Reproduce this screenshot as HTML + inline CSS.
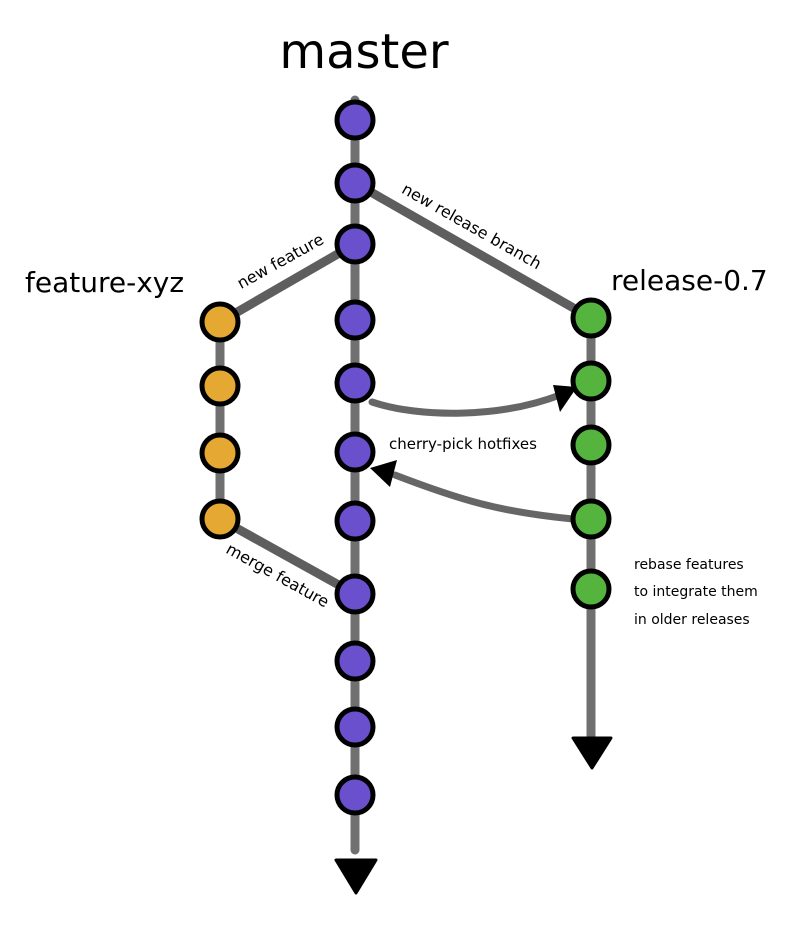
<!DOCTYPE html>
<html><head><style>body{margin:0;background:#fff}svg{display:block}</style></head>
<body>
<svg width="800" height="934" xmlns="http://www.w3.org/2000/svg" font-family="DejaVu Sans, Liberation Sans, sans-serif">
<g stroke="#707070" stroke-width="9" fill="none" stroke-linecap="round">
<line x1="355" y1="100" x2="355" y2="850"/>
<line x1="220" y1="322" x2="220" y2="519"/>
<line x1="591" y1="318" x2="591" y2="740"/>
<line x1="355" y1="183" x2="591" y2="318" stroke="#5e5e5e"/>
<line x1="355" y1="244" x2="220" y2="322" stroke="#5e5e5e"/>
<line x1="220" y1="519" x2="355" y2="594" stroke="#5e5e5e"/>
<path d="M372 402 C420 418 500 418 560 395" stroke-width="7" stroke="#666"/>
<path d="M573 519 C500 512 460 500 395 475" stroke-width="7" stroke="#666"/>
</g>
<polygon points="577,387 553,385 560,412" fill="#000"/>
<polygon points="370,468 397,460 390,487" fill="#000"/>
<polygon points="336,860 376,860 356,893" fill="#000" stroke="#000" stroke-width="3" stroke-linejoin="round"/>
<polygon points="573,738 611,738 592,768" fill="#000" stroke="#000" stroke-width="3" stroke-linejoin="round"/>
<g stroke="#000" stroke-width="5" fill="#6a50cc">
<circle cx="355" cy="120" r="18"/><circle cx="355" cy="183" r="18"/><circle cx="355" cy="244" r="18"/>
<circle cx="355" cy="320" r="18"/><circle cx="355" cy="383" r="18"/><circle cx="355" cy="452" r="18"/>
<circle cx="355" cy="521" r="18"/><circle cx="355" cy="594" r="18"/><circle cx="355" cy="661" r="18"/>
<circle cx="355" cy="727" r="18"/><circle cx="355" cy="795" r="18"/>
</g>
<g stroke="#000" stroke-width="5" fill="#e5a832">
<circle cx="220" cy="322" r="18"/><circle cx="220" cy="386" r="18"/><circle cx="220" cy="453" r="18"/><circle cx="220" cy="519" r="18"/>
</g>
<g stroke="#000" stroke-width="5" fill="#54b43e">
<circle cx="591" cy="318" r="18"/><circle cx="591" cy="381" r="18"/><circle cx="591" cy="445" r="18"/><circle cx="591" cy="519" r="18"/><circle cx="591" cy="589" r="18"/>
</g>
<text x="364" y="68" font-size="48" text-anchor="middle">master</text>
<text x="25" y="292" font-size="28">feature-xyz</text>
<text x="611" y="290" font-size="28">release-0.7</text>
<text transform="translate(283,266) rotate(-29)" font-size="16" text-anchor="middle">new feature</text>
<text transform="translate(469,231) rotate(29.5)" font-size="16" text-anchor="middle">new release branch</text>
<text transform="translate(275,580) rotate(29)" font-size="16" text-anchor="middle">merge feature</text>
<text x="389" y="449" font-size="15">cherry-pick hotfixes</text>
<text x="634" y="569" font-size="14">rebase features</text>
<text x="634" y="596" font-size="14">to integrate them</text>
<text x="634" y="624" font-size="14">in older releases</text>
</svg>
</body></html>
